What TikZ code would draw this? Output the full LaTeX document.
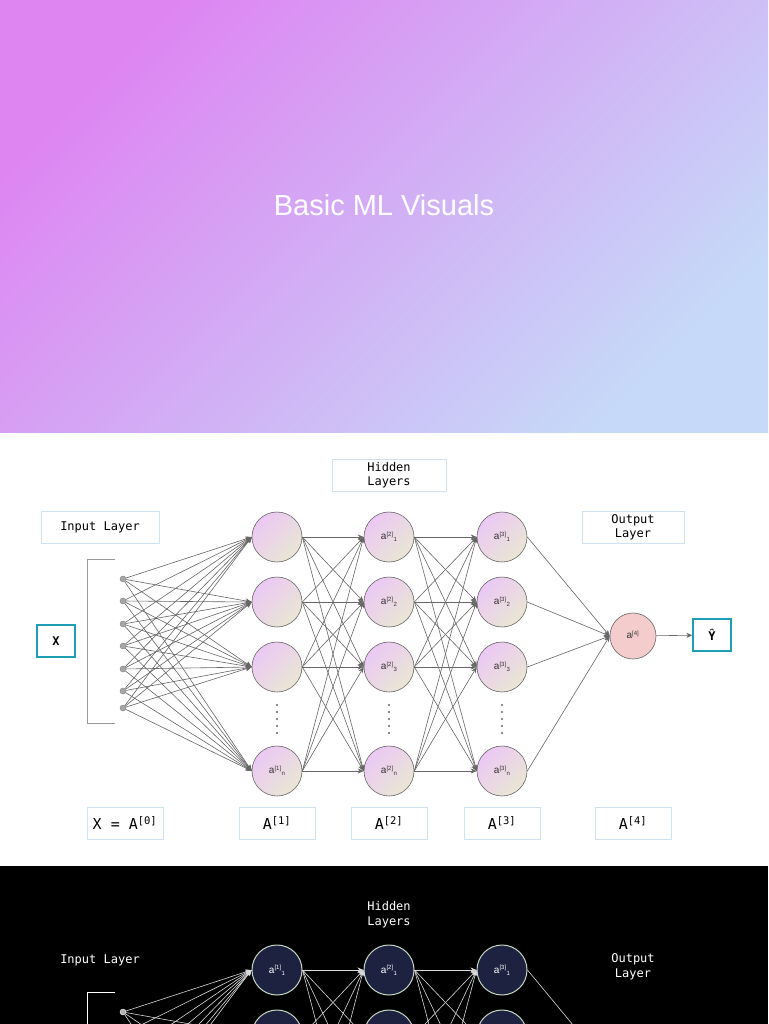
\documentclass[tikz,border=0pt]{standalone}
\usepackage{fontspec}
\setmainfont{Liberation Sans}
\newfontfamily\monof{DejaVu Sans Mono}
\usetikzlibrary{arrows.meta}
\definecolor{gA}{HTML}{DE85F2}
\definecolor{gB}{HTML}{C6D9F8}
\definecolor{lbl}{HTML}{CFE2F3}
\definecolor{tealc}{HTML}{1E9EB4}
\definecolor{nodeA}{HTML}{EBC8F4}
\definecolor{nodeB}{HTML}{EAE6D4}
\definecolor{outN}{HTML}{F4CCCC}
\definecolor{navy}{HTML}{1C2240}
\definecolor{rimD}{HTML}{C8D8C0}
\newif\ifdarknet
\newcommand{\netlabel}[2]{{\fontsize{10}{10}\selectfont a\textsuperscript{\fontsize{6}{6}\selectfont[#1]}\raisebox{-2pt}{\fontsize{6}{6}\selectfont#2}}}
\newcommand{\drawnet}[1]{%
  \foreach \k/\y in {1/579,2/601,3/624,4/646,5/669,6/691,7/708}
    \node[indot] (#1i\k) at (123,\y) {};
  \draw[brk] (115,559) -- (87,559) -- (87,723) -- (115,723);
  \foreach \L/\x in {1/277,2/389,3/502}{
    \foreach \j/\y/\s in {1/537/1,2/602/2,3/667/3,4/771/n}{
      \ifdarknet
        \node[neuron] (#1l\L n\j) at (\x,\y) {\netlabel{\L}{\s}};
      \else
        \ifnum\L=1 \ifnum\j=4
          \node[neuron] (#1l\L n\j) at (\x,\y) {\netlabel{\L}{\s}};
        \else
          \node[neuron] (#1l\L n\j) at (\x,\y) {};
        \fi\else
          \node[neuron] (#1l\L n\j) at (\x,\y) {\netlabel{\L}{\s}};
        \fi
      \fi
    }
    \foreach \d in {0,1,2,3,4} \fill[dotc] (\x,705+7*\d) circle (1.2);
  }
  \node[outneuron] (#1out) at (633,636) {\netlabel{4}{}};
  \foreach \k in {1,...,7}\foreach \j in {1,...,4}
    \draw[edge] (#1i\k) -- (#1l1n\j.west);
  \foreach \a/\b in {1/2,2/3}\foreach \k in {1,...,4}\foreach \j in {1,...,4}
    \draw[edge] (#1l\a n\k.east) -- (#1l\b n\j.west);
  \foreach \k in {1,...,4}
    \draw[edge] (#1l3n\k.east) -- (#1out.west);
}
\begin{document}
\begin{tikzpicture}[x=1pt,y=-1pt,
  lblbox/.style={draw=lbl,line width=0.8pt,minimum height=32pt,font=\monof\fontsize{12}{14}\selectfont,align=center,inner sep=1pt},
  tealbox/.style={draw=tealc,line width=1.4pt,minimum width=38pt,minimum height=32pt,font=\monof\fontsize{12}{12}\selectfont\bfseries},
  ]
\useasboundingbox (0,0) rectangle (768,1024);
\shade[left color=gA,right color=gB,shading angle=45] (0,0) rectangle (768,433);
\node[text=white,font=\fontsize{29}{30}\selectfont] (title) at (384,205) {Basic ML Visuals};
\fill[white] (0,433) rectangle (768,866);
\fill[black] (0,866) rectangle (768,1024);
\begin{scope}[
  indot/.style={circle,fill=gray!70,draw=gray,inner sep=0pt,minimum size=6pt},
  brk/.style={draw=gray!80,line width=0.8pt},
  neuron/.style={circle,draw=gray!80!black,line width=0.6pt,minimum size=50pt,inner sep=0pt,left color=nodeA,right color=nodeB,shading angle=45,text=black!80},
  outneuron/.style={circle,draw=gray!80!black,line width=0.6pt,minimum size=46pt,inner sep=0pt,fill=outN,text=black!80},
  edge/.style={draw=black!60,line width=0.6pt,-{Stealth[length=6pt,width=5pt]}},
  dotc/.style={fill=black!60}]
\darknetfalse
\drawnet{w}
\node[tealbox] (yhat) at (712,635) {\^{Y}};
\draw[edge] (wout) -- (yhat);
\node[tealbox] (xbox) at (56,641) {X};
\node[lblbox,minimum width=118pt] (inl) at (100,527) {Input Layer};
\node[lblbox,minimum width=114pt] (hid) at (389,475) {Hidden\\Layers};
\node[lblbox,minimum width=102pt] (outl) at (633,527) {Output\\Layer};
\node[lblbox,minimum width=76pt,font=\monof\fontsize{15}{15}\selectfont] (a0) at (125,823) {X = A\textsuperscript{[0]}};
\foreach \n/\x in {1/277,2/389,3/502,4/633}
  \node[lblbox,minimum width=76pt,font=\monof\fontsize{15}{15}\selectfont] (a\n) at (\x,823) {A\textsuperscript{[\n]}};
\end{scope}
\begin{scope}
\clip (0,866) rectangle (768,1024);
\begin{scope}[yshift=-433pt,
  indot/.style={circle,fill=gray!60,draw=white,inner sep=0pt,minimum size=6pt},
  brk/.style={draw=white,line width=0.8pt},
  neuron/.style={circle,draw=rimD,line width=1pt,minimum size=50pt,inner sep=0pt,fill=navy,text=white},
  outneuron/.style={circle,draw=rimD,line width=1pt,minimum size=46pt,inner sep=0pt,fill=navy,text=white},
  edge/.style={draw=white!85!black,line width=0.6pt,-{Stealth[length=6pt,width=5pt]}},
  dotc/.style={fill=white}]
\darknettrue
\drawnet{d}
\node[text=white,font=\monof\fontsize{12}{14}\selectfont,align=center] (dinl) at (100,527) {Input Layer};
\node[text=white,font=\monof\fontsize{12}{15}\selectfont,align=center] (dhid) at (389,482) {Hidden\\Layers};
\node[text=white,font=\monof\fontsize{12}{15}\selectfont,align=center] (doutl) at (633,534) {Output\\Layer};
\end{scope}
\end{scope}
\end{tikzpicture}
\end{document}
